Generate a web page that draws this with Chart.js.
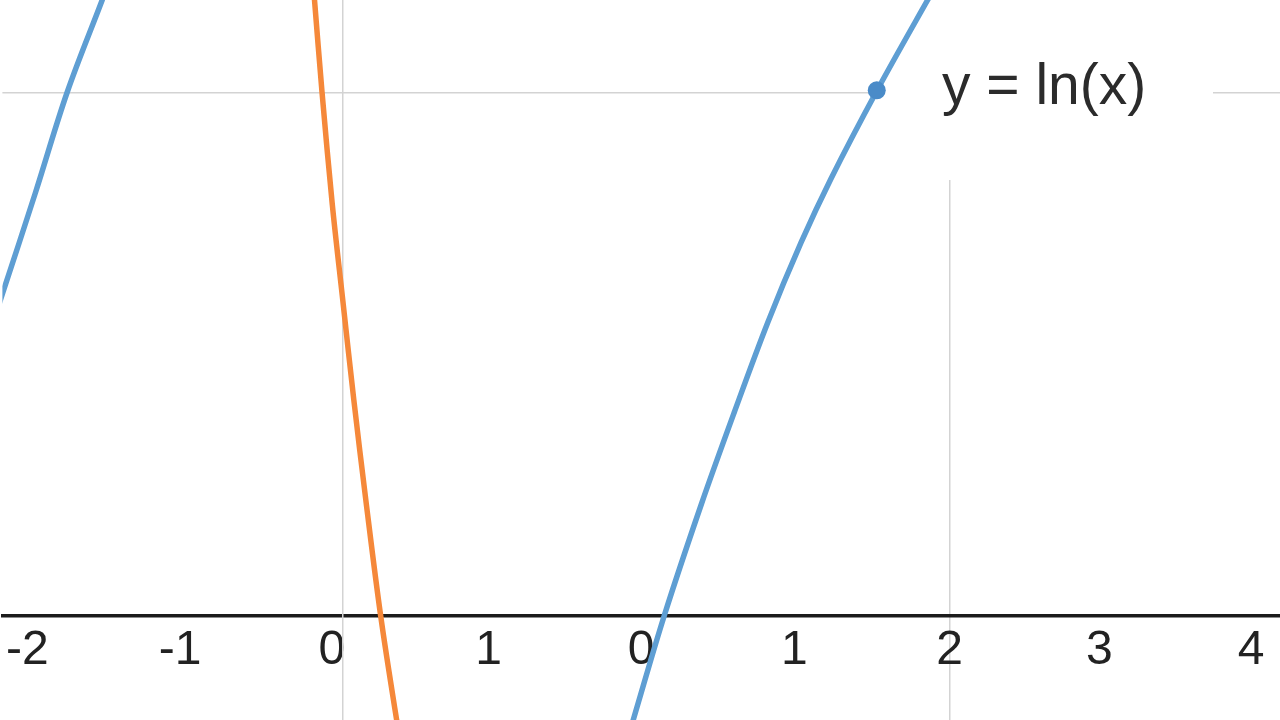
<!DOCTYPE html>
<html>
<head>
<meta charset="utf-8">
<title>y = ln(x)</title>
<script src="https://cdn.jsdelivr.net/npm/chart.js@4.4.1/dist/chart.umd.min.js"></script>
<style>
  html, body { margin: 0; padding: 0; background: #fff; }
  #wrap { width: 1280px; height: 720px; }
</style>
</head>
<body>
<div id="wrap"><canvas id="graph"></canvas></div>
<script>
// ----------- values ----------- //

// blue curve, right side
const blueRightX = [-0.1645, -0.0855, 0.1184, 0.3618, 0.5789, 0.8026, 1.0197, 1.2171, 1.5197, 1.8553, 2.026];
const blueRightY = [-0.2753, -0.1989, 0, 0.2122, 0.3881, 0.5621, 0.7132, 0.8356, 1.0038, 1.1778, 1.264];

// blue curve, left edge
const blueLeftX = [-4.3224, -4.2434, -4.0263, -3.8158, -3.5855, -3.513];
const blueLeftY = [0.5468, 0.6157, 0.8088, 1.0019, 1.1778, 1.2352];

// orange curve
const orangeX = [-2.2026, -2.1862, -2.1362, -2.0691, -2.0, -1.927, -1.848, -1.75, -1.6447, -1.5987];
const orangeY = [1.2352, 1.1778, 1.0, 0.7874, 0.6042, 0.413, 0.2218, 0, -0.1989, -0.2753];

// marked point on the blue curve
const markerX = [1.5197];
const markerY = [1.005];

// x axis labels and where they sit
const tickValues = [-4.079, -3.072, -2.072, -1.039, -0.033, 0.977, 2, 2.987, 3.987];
const tickLabels = ["-2", "-1", "0", "1", "0", "1", "2", "3", "4"];

const curveLabel = "y = ln(x)";

const toPoints = (xs, ys) => xs.map((x, i) => ({ x: x, y: ys[i] }));

const blue = '#5e9ed3';
const orange = '#f5883a';
const gridGrey = '#d3d3d3';

// white box behind the label, and the label itself
const labelPlugin = {
    id: 'curveLabel',
    beforeDatasetsDraw(chart) {
        const ctx = chart.ctx;
        ctx.save();
        ctx.fillStyle = '#ffffff';
        ctx.fillRect(882, 0, 331, 180);
        ctx.restore();
    },
    afterDatasetsDraw(chart) {
        const ctx = chart.ctx;
        ctx.save();
        ctx.fillStyle = '#2b2b2b';
        ctx.font = '57px "Liberation Sans", Arial, sans-serif';
        ctx.textBaseline = 'alphabetic';
        ctx.textAlign = 'left';
        ctx.fillText(curveLabel, 942, 104);
        ctx.restore();
    }
};

const lineStyle = (color) => ({
    borderColor: color,
    borderWidth: 5.5,
    pointRadius: 0,
    fill: false,
    tension: 0.35
});

new Chart(document.getElementById('graph'), {
    type: 'scatter',
    data: {
        datasets: [
            {
                data: toPoints(markerX, markerY),
                pointRadius: 9,
                pointBackgroundColor: '#4a8bc8',
                pointBorderWidth: 0,
                showLine: false
            },
            Object.assign({ data: toPoints(blueRightX, blueRightY), showLine: true }, lineStyle(blue)),
            Object.assign({ data: toPoints(blueLeftX, blueLeftY), showLine: true }, lineStyle(blue)),
            Object.assign({ data: toPoints(orangeX, orangeY), showLine: true }, lineStyle(orange))
        ]
    },
    options: {
        responsive: true,
        maintainAspectRatio: false,
        animation: false,
        layout: { padding: 0, autoPadding: false },
        plugins: {
            legend: { display: false },
            tooltip: { enabled: false }
        },
        scales: {
            x: {
                type: 'linear',
                min: -4.2434,
                max: 4.1776,
                position: { y: 0 },
                afterBuildTicks: (scale) => {
                    scale.ticks = tickValues.map(v => ({ value: v }));
                },
                ticks: {
                    autoSkip: false,
                    maxRotation: 0,
                    minRotation: 0,
                    padding: 6,
                    color: '#222222',
                    font: { family: '"Liberation Sans", Arial, sans-serif', size: 48 },
                    callback: (val, i) => tickLabels[i]
                },
                grid: {
                    drawTicks: false,
                    lineWidth: 1.5,
                    color: (c) => (c.tick && c.tick.value === 2 ? gridGrey : 'rgba(0,0,0,0)')
                },
                border: { color: '#1c1c1c', width: 3.5 }
            },
            y: {
                type: 'linear',
                min: -0.1989,
                max: 1.1778,
                position: { x: -2 },
                afterBuildTicks: (scale) => {
                    scale.ticks = [{ value: 1 }];
                },
                ticks: { display: false },
                grid: { drawTicks: false, lineWidth: 1.5, color: gridGrey },
                border: { color: gridGrey, width: 1.5 }
            }
        }
    },
    plugins: [labelPlugin]
});
</script>
</body>
</html>
